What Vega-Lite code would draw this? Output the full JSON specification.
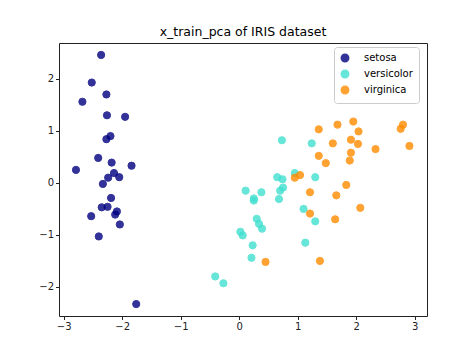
{
  "$schema": "https://vega.github.io/schema/vega-lite/v6.json",
  "autosize": "none",
  "width": 368,
  "height": 273,
  "padding": {"left": 59, "top": 43, "right": 47, "bottom": 39},
  "background": "white",
  "title": {"text": "x_train_pca of IRIS dataset", "font": "DejaVu Sans", "fontSize": 12.5, "fontWeight": "normal", "color": "#000", "offset": 5},
  "config": {
    "view": {"stroke": "#222", "strokeWidth": 1},
    "axis": {"grid": false, "domain": false, "tickColor": "#222", "tickSize": 3.5, "labelFont": "DejaVu Sans", "labelFontSize": 10, "labelColor": "#222", "labelPadding": 2, "title": null}
  },
  "data": {"values": [
    {"x": -2.36, "y": 2.46, "species": "setosa"},
    {"x": -2.52, "y": 1.93, "species": "setosa"},
    {"x": -2.27, "y": 1.70, "species": "setosa"},
    {"x": -2.68, "y": 1.56, "species": "setosa"},
    {"x": -2.26, "y": 1.30, "species": "setosa"},
    {"x": -1.95, "y": 1.27, "species": "setosa"},
    {"x": -2.20, "y": 0.90, "species": "setosa"},
    {"x": -2.27, "y": 0.84, "species": "setosa"},
    {"x": -2.41, "y": 0.48, "species": "setosa"},
    {"x": -2.18, "y": 0.39, "species": "setosa"},
    {"x": -2.79, "y": 0.25, "species": "setosa"},
    {"x": -1.84, "y": 0.33, "species": "setosa"},
    {"x": -2.14, "y": 0.19, "species": "setosa"},
    {"x": -2.05, "y": 0.11, "species": "setosa"},
    {"x": -2.24, "y": 0.10, "species": "setosa"},
    {"x": -2.33, "y": -0.02, "species": "setosa"},
    {"x": -2.19, "y": -0.29, "species": "setosa"},
    {"x": -2.35, "y": -0.47, "species": "setosa"},
    {"x": -2.25, "y": -0.46, "species": "setosa"},
    {"x": -2.53, "y": -0.64, "species": "setosa"},
    {"x": -2.09, "y": -0.55, "species": "setosa"},
    {"x": -2.12, "y": -0.61, "species": "setosa"},
    {"x": -2.04, "y": -0.80, "species": "setosa"},
    {"x": -2.40, "y": -1.03, "species": "setosa"},
    {"x": -1.76, "y": -2.33, "species": "setosa"},
    {"x": 0.73, "y": 0.82, "species": "versicolor"},
    {"x": 1.24, "y": 0.76, "species": "versicolor"},
    {"x": 0.65, "y": 0.11, "species": "versicolor"},
    {"x": 0.74, "y": 0.07, "species": "versicolor"},
    {"x": 0.95, "y": 0.19, "species": "versicolor"},
    {"x": 1.30, "y": 0.11, "species": "versicolor"},
    {"x": 0.11, "y": -0.15, "species": "versicolor"},
    {"x": 0.38, "y": -0.18, "species": "versicolor"},
    {"x": 0.25, "y": -0.30, "species": "versicolor"},
    {"x": 0.25, "y": -0.34, "species": "versicolor"},
    {"x": 0.75, "y": -0.09, "species": "versicolor"},
    {"x": 0.70, "y": -0.15, "species": "versicolor"},
    {"x": 0.68, "y": -0.31, "species": "versicolor"},
    {"x": 1.10, "y": -0.50, "species": "versicolor"},
    {"x": 1.30, "y": -0.74, "species": "versicolor"},
    {"x": 0.30, "y": -0.69, "species": "versicolor"},
    {"x": 0.34, "y": -0.79, "species": "versicolor"},
    {"x": 0.39, "y": -0.88, "species": "versicolor"},
    {"x": 0.02, "y": -0.94, "species": "versicolor"},
    {"x": 0.06, "y": -1.01, "species": "versicolor"},
    {"x": 0.23, "y": -1.20, "species": "versicolor"},
    {"x": 1.13, "y": -1.15, "species": "versicolor"},
    {"x": 0.21, "y": -1.44, "species": "versicolor"},
    {"x": -0.41, "y": -1.80, "species": "versicolor"},
    {"x": -0.27, "y": -1.93, "species": "versicolor"},
    {"x": 1.36, "y": 1.03, "species": "virginica"},
    {"x": 1.68, "y": 1.12, "species": "virginica"},
    {"x": 1.95, "y": 1.18, "species": "virginica"},
    {"x": 2.04, "y": 0.99, "species": "virginica"},
    {"x": 2.80, "y": 1.12, "species": "virginica"},
    {"x": 2.76, "y": 1.04, "species": "virginica"},
    {"x": 1.60, "y": 0.76, "species": "virginica"},
    {"x": 1.91, "y": 0.83, "species": "virginica"},
    {"x": 2.03, "y": 0.75, "species": "virginica"},
    {"x": 2.33, "y": 0.65, "species": "virginica"},
    {"x": 2.91, "y": 0.71, "species": "virginica"},
    {"x": 1.91, "y": 0.58, "species": "virginica"},
    {"x": 1.89, "y": 0.43, "species": "virginica"},
    {"x": 1.36, "y": 0.52, "species": "virginica"},
    {"x": 1.48, "y": 0.38, "species": "virginica"},
    {"x": 0.95, "y": 0.10, "species": "virginica"},
    {"x": 1.04, "y": 0.15, "species": "virginica"},
    {"x": 1.21, "y": -0.18, "species": "virginica"},
    {"x": 1.66, "y": -0.24, "species": "virginica"},
    {"x": 1.83, "y": -0.04, "species": "virginica"},
    {"x": 2.07, "y": -0.48, "species": "virginica"},
    {"x": 1.21, "y": -0.59, "species": "virginica"},
    {"x": 1.64, "y": -0.70, "species": "virginica"},
    {"x": 0.45, "y": -1.52, "species": "virginica"},
    {"x": 1.38, "y": -1.50, "species": "virginica"}
  ]},
  "mark": {"type": "circle", "opacity": 0.8, "strokeWidth": 1, "size": 52},
  "encoding": {
    "x": {"field": "x", "type": "quantitative", "scale": {"domain": [-3.08, 3.21], "nice": false, "zero": false}, "axis": {"values": [-3, -2, -1, 0, 1, 2, 3]}},
    "y": {"field": "y", "type": "quantitative", "scale": {"domain": [-2.56, 2.69], "nice": false, "zero": false}, "axis": {"values": [-2, -1, 0, 1, 2]}},
    "color": {"field": "species", "type": "nominal", "scale": {"domain": ["setosa", "versicolor", "virginica"], "range": ["#000080", "#40E0D0", "#FF8C00"]},
      "legend": {"title": null, "orient": "none", "legendX": 275, "legendY": 4, "padding": 6, "fillColor": "white", "strokeColor": "#cccccc", "cornerRadius": 3, "labelFont": "DejaVu Sans", "labelFontSize": 10, "labelColor": "#000", "symbolSize": 55, "symbolOpacity": 0.8, "rowPadding": 2, "labelOffset": 14, "symbolType": "circle"}},
    "stroke": {"field": "species", "type": "nominal", "scale": {"domain": ["setosa", "versicolor", "virginica"], "range": ["#000080", "#40E0D0", "#FF8C00"]}, "legend": null}
  }
}
